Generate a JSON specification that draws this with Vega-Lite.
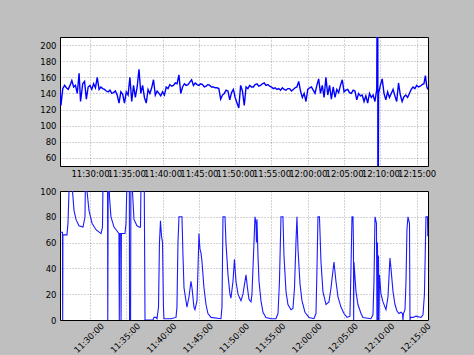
{
  "$schema": "https://vega.github.io/schema/vega-lite/v6.json",
  "background": "#bfbfbf",
  "padding": {"left": 39, "top": 36, "right": 41, "bottom": 0},
  "spacing": 25,
  "bounds": "flush",
  "config": {
    "view": {"fill": "white", "stroke": "black", "strokeWidth": 1},
    "axis": {"labelFont": "DejaVu Sans", "labelFontSize": 8.5, "labelColor": "black", "domain": false, "ticks": false, "tickSize": 0, "grid": true, "gridColor": "black", "gridDash": [1, 2], "gridOpacity": 0.35, "gridWidth": 1, "title": null, "labelOverlap": false, "labelFlush": false, "labelBound": false}
  },
  "datasets": {
    "top": [
      {"t": 25.87, "v": 147}, {"t": 26.0, "v": 125}, {"t": 26.25, "v": 146}, {"t": 26.5, "v": 150}, {"t": 26.75, "v": 147}, {"t": 27.0, "v": 145}, {"t": 27.25, "v": 150}, {"t": 27.5, "v": 156}, {"t": 27.75, "v": 148}, {"t": 28.0, "v": 150}, {"t": 28.25, "v": 140}, {"t": 28.5, "v": 165}, {"t": 28.7, "v": 130}, {"t": 29.0, "v": 152}, {"t": 29.25, "v": 155}, {"t": 29.5, "v": 133}, {"t": 29.75, "v": 148},
      {"t": 30.0, "v": 150}, {"t": 30.25, "v": 145}, {"t": 30.5, "v": 152}, {"t": 30.75, "v": 147}, {"t": 31.0, "v": 160}, {"t": 31.25, "v": 145}, {"t": 31.5, "v": 148}, {"t": 31.75, "v": 146}, {"t": 32.0, "v": 145}, {"t": 32.25, "v": 143}, {"t": 32.5, "v": 142}, {"t": 32.75, "v": 144}, {"t": 33.0, "v": 140}, {"t": 33.25, "v": 141}, {"t": 33.5, "v": 143}, {"t": 33.75, "v": 138}, {"t": 34.0, "v": 128}, {"t": 34.25, "v": 142}, {"t": 34.5, "v": 139}, {"t": 34.75, "v": 128},
      {"t": 35.0, "v": 142}, {"t": 35.25, "v": 138}, {"t": 35.5, "v": 160}, {"t": 35.75, "v": 130}, {"t": 36.0, "v": 150}, {"t": 36.25, "v": 135}, {"t": 36.5, "v": 148}, {"t": 36.75, "v": 170}, {"t": 37.0, "v": 140}, {"t": 37.25, "v": 150}, {"t": 37.5, "v": 135}, {"t": 37.75, "v": 128}, {"t": 38.0, "v": 145}, {"t": 38.25, "v": 140}, {"t": 38.5, "v": 147}, {"t": 38.75, "v": 157}, {"t": 39.0, "v": 138}, {"t": 39.25, "v": 143}, {"t": 39.5, "v": 140}, {"t": 39.75, "v": 137},
      {"t": 40.0, "v": 142}, {"t": 40.25, "v": 138}, {"t": 40.5, "v": 148}, {"t": 40.75, "v": 146}, {"t": 41.0, "v": 151}, {"t": 41.25, "v": 149}, {"t": 41.5, "v": 150}, {"t": 41.75, "v": 153}, {"t": 42.0, "v": 152}, {"t": 42.25, "v": 163}, {"t": 42.5, "v": 140}, {"t": 42.75, "v": 148}, {"t": 43.0, "v": 152}, {"t": 43.25, "v": 150}, {"t": 43.5, "v": 151}, {"t": 43.75, "v": 154}, {"t": 44.0, "v": 157}, {"t": 44.25, "v": 150}, {"t": 44.5, "v": 153}, {"t": 44.75, "v": 151},
      {"t": 45.0, "v": 150}, {"t": 45.25, "v": 152}, {"t": 45.5, "v": 151}, {"t": 45.75, "v": 148}, {"t": 46.0, "v": 149}, {"t": 46.25, "v": 151}, {"t": 46.5, "v": 150}, {"t": 46.75, "v": 148}, {"t": 47.0, "v": 148}, {"t": 47.25, "v": 147}, {"t": 47.5, "v": 147}, {"t": 47.75, "v": 146}, {"t": 48.0, "v": 133}, {"t": 48.25, "v": 138}, {"t": 48.5, "v": 140}, {"t": 48.75, "v": 144}, {"t": 49.0, "v": 143}, {"t": 49.25, "v": 132}, {"t": 49.5, "v": 141}, {"t": 49.75, "v": 145},
      {"t": 50.0, "v": 135}, {"t": 50.25, "v": 128}, {"t": 50.5, "v": 122}, {"t": 50.75, "v": 150}, {"t": 51.0, "v": 143}, {"t": 51.25, "v": 125}, {"t": 51.5, "v": 148}, {"t": 51.75, "v": 146}, {"t": 52.0, "v": 150}, {"t": 52.25, "v": 148}, {"t": 52.5, "v": 148}, {"t": 52.75, "v": 151}, {"t": 53.0, "v": 152}, {"t": 53.25, "v": 149}, {"t": 53.5, "v": 150}, {"t": 53.75, "v": 152}, {"t": 54.0, "v": 153}, {"t": 54.25, "v": 150}, {"t": 54.5, "v": 151}, {"t": 54.75, "v": 149},
      {"t": 55.0, "v": 148}, {"t": 55.25, "v": 146}, {"t": 55.5, "v": 147}, {"t": 55.75, "v": 145}, {"t": 56.0, "v": 146}, {"t": 56.25, "v": 144}, {"t": 56.5, "v": 147}, {"t": 56.75, "v": 145}, {"t": 57.0, "v": 144}, {"t": 57.25, "v": 146}, {"t": 57.5, "v": 146}, {"t": 57.75, "v": 143}, {"t": 58.0, "v": 145}, {"t": 58.25, "v": 147}, {"t": 58.5, "v": 148}, {"t": 58.75, "v": 155}, {"t": 59.0, "v": 143}, {"t": 59.25, "v": 135}, {"t": 59.5, "v": 140}, {"t": 59.75, "v": 130},
      {"t": 60.0, "v": 145}, {"t": 60.25, "v": 147}, {"t": 60.5, "v": 148}, {"t": 60.75, "v": 144}, {"t": 61.0, "v": 140}, {"t": 61.25, "v": 150}, {"t": 61.5, "v": 158}, {"t": 61.75, "v": 140}, {"t": 62.0, "v": 150}, {"t": 62.25, "v": 135}, {"t": 62.5, "v": 160}, {"t": 62.75, "v": 138}, {"t": 63.0, "v": 150}, {"t": 63.25, "v": 133}, {"t": 63.5, "v": 148}, {"t": 63.75, "v": 135}, {"t": 64.0, "v": 145}, {"t": 64.25, "v": 141}, {"t": 64.5, "v": 150}, {"t": 64.75, "v": 157},
      {"t": 65.0, "v": 142}, {"t": 65.25, "v": 144}, {"t": 65.5, "v": 145}, {"t": 65.75, "v": 141}, {"t": 66.0, "v": 140}, {"t": 66.25, "v": 144}, {"t": 66.5, "v": 143}, {"t": 66.75, "v": 132}, {"t": 67.0, "v": 140}, {"t": 67.25, "v": 137}, {"t": 67.5, "v": 138}, {"t": 67.75, "v": 130}, {"t": 68.0, "v": 137}, {"t": 68.25, "v": 128}, {"t": 68.5, "v": 140}, {"t": 68.75, "v": 135}, {"t": 69.0, "v": 138}, {"t": 69.25, "v": 130}, {"t": 69.5, "v": 145}, {"t": 69.63, "v": 400}, {"t": 69.67, "v": -100}, {"t": 69.75, "v": 140},
      {"t": 70.0, "v": 150}, {"t": 70.25, "v": 158}, {"t": 70.5, "v": 140}, {"t": 70.75, "v": 132}, {"t": 71.0, "v": 142}, {"t": 71.25, "v": 135}, {"t": 71.5, "v": 140}, {"t": 71.75, "v": 145}, {"t": 72.0, "v": 137}, {"t": 72.25, "v": 130}, {"t": 72.5, "v": 153}, {"t": 72.75, "v": 138}, {"t": 73.0, "v": 130}, {"t": 73.25, "v": 136}, {"t": 73.5, "v": 138}, {"t": 73.75, "v": 135}, {"t": 74.0, "v": 140}, {"t": 74.25, "v": 145}, {"t": 74.5, "v": 148}, {"t": 74.75, "v": 146},
      {"t": 75.0, "v": 150}, {"t": 75.25, "v": 148}, {"t": 75.5, "v": 149}, {"t": 75.75, "v": 151}, {"t": 76.0, "v": 152}, {"t": 76.2, "v": 162}, {"t": 76.4, "v": 148}, {"t": 76.56, "v": 145}
    ],
    "bottom": [
      {"t": 25.87, "v": 68}, {"t": 26.21, "v": 68}, {"t": 26.24, "v": 0}, {"t": 26.27, "v": 66}, {"t": 26.83, "v": 66}, {"t": 26.97, "v": 75}, {"t": 27.11, "v": 100}, {"t": 27.38, "v": 140}, {"t": 27.59, "v": 100}, {"t": 27.8, "v": 85}, {"t": 28.07, "v": 78}, {"t": 28.48, "v": 73}, {"t": 29.04, "v": 72}, {"t": 29.31, "v": 80}, {"t": 29.45, "v": 140}, {"t": 29.59, "v": 100}, {"t": 29.86, "v": 85}, {"t": 30.28, "v": 75}, {"t": 30.83, "v": 70}, {"t": 31.52, "v": 67}, {"t": 31.72, "v": 72}, {"t": 31.86, "v": 140}, {"t": 32.41, "v": 140}, {"t": 32.45, "v": 0}, {"t": 32.52, "v": 130}, {"t": 32.69, "v": 95}, {"t": 32.89, "v": 80}, {"t": 33.31, "v": 72}, {"t": 33.86, "v": 68}, {"t": 33.99, "v": 67}, {"t": 34.04, "v": 0}, {"t": 34.08, "v": 67}, {"t": 34.24, "v": 67}, {"t": 34.28, "v": 0}, {"t": 34.33, "v": 67}, {"t": 34.82, "v": 67}, {"t": 34.96, "v": 75}, {"t": 35.23, "v": 140}, {"t": 35.41, "v": 140}, {"t": 35.45, "v": 0}, {"t": 35.59, "v": 0}, {"t": 35.65, "v": 140}, {"t": 35.85, "v": 100}, {"t": 36.06, "v": 78}, {"t": 36.47, "v": 73}, {"t": 36.82, "v": 72}, {"t": 36.96, "v": 72}, {"t": 37.09, "v": 140}, {"t": 37.37, "v": 140}, {"t": 37.48, "v": 100}, {"t": 37.58, "v": 0},
      {"t": 38.68, "v": 0}, {"t": 38.82, "v": 2}, {"t": 39.09, "v": 2}, {"t": 39.23, "v": 1}, {"t": 39.44, "v": 10}, {"t": 39.57, "v": 60}, {"t": 39.71, "v": 77}, {"t": 39.85, "v": 65}, {"t": 39.99, "v": 60}, {"t": 40.12, "v": 10}, {"t": 40.19, "v": 1}, {"t": 41.16, "v": 1}, {"t": 41.85, "v": 2}, {"t": 41.98, "v": 10}, {"t": 42.12, "v": 60}, {"t": 42.26, "v": 80}, {"t": 42.67, "v": 80}, {"t": 42.81, "v": 50}, {"t": 42.95, "v": 25}, {"t": 43.22, "v": 15}, {"t": 43.36, "v": 10}, {"t": 43.64, "v": 18}, {"t": 43.91, "v": 30}, {"t": 44.05, "v": 25}, {"t": 44.32, "v": 10}, {"t": 44.46, "v": 8}, {"t": 44.74, "v": 15}, {"t": 44.88, "v": 40}, {"t": 45.01, "v": 67}, {"t": 45.15, "v": 55}, {"t": 45.29, "v": 52}, {"t": 45.43, "v": 45}, {"t": 45.7, "v": 25}, {"t": 45.98, "v": 12}, {"t": 46.25, "v": 5}, {"t": 46.67, "v": 2},
      {"t": 48.04, "v": 1}, {"t": 48.18, "v": 10}, {"t": 48.32, "v": 80}, {"t": 48.6, "v": 80}, {"t": 48.73, "v": 60}, {"t": 49.01, "v": 35}, {"t": 49.28, "v": 20}, {"t": 49.42, "v": 17}, {"t": 49.7, "v": 30}, {"t": 49.9, "v": 47}, {"t": 50.11, "v": 30}, {"t": 50.39, "v": 20}, {"t": 50.8, "v": 15}, {"t": 51.07, "v": 20}, {"t": 51.35, "v": 30}, {"t": 51.49, "v": 35}, {"t": 51.69, "v": 25}, {"t": 51.9, "v": 16}, {"t": 52.18, "v": 14}, {"t": 52.31, "v": 20}, {"t": 52.45, "v": 40}, {"t": 52.59, "v": 60}, {"t": 52.73, "v": 80}, {"t": 52.87, "v": 75}, {"t": 52.93, "v": 60}, {"t": 53.0, "v": 78}, {"t": 53.14, "v": 50}, {"t": 53.28, "v": 30}, {"t": 53.55, "v": 15}, {"t": 53.83, "v": 6}, {"t": 54.24, "v": 2}, {"t": 54.93, "v": 1},
      {"t": 55.62, "v": 1}, {"t": 55.9, "v": 5}, {"t": 56.1, "v": 30}, {"t": 56.31, "v": 80}, {"t": 56.58, "v": 80}, {"t": 56.72, "v": 50}, {"t": 57.0, "v": 22}, {"t": 57.27, "v": 12}, {"t": 57.69, "v": 8}, {"t": 57.96, "v": 9}, {"t": 58.17, "v": 25}, {"t": 58.37, "v": 60}, {"t": 58.51, "v": 80}, {"t": 58.65, "v": 55}, {"t": 58.93, "v": 28}, {"t": 59.2, "v": 15}, {"t": 59.61, "v": 6}, {"t": 60.17, "v": 2}, {"t": 60.85, "v": 1}, {"t": 61.13, "v": 5}, {"t": 61.27, "v": 40}, {"t": 61.4, "v": 80}, {"t": 61.61, "v": 80}, {"t": 61.82, "v": 45}, {"t": 62.09, "v": 22}, {"t": 62.51, "v": 12}, {"t": 62.92, "v": 14}, {"t": 63.2, "v": 25}, {"t": 63.61, "v": 45}, {"t": 63.88, "v": 30}, {"t": 64.16, "v": 18}, {"t": 64.57, "v": 10}, {"t": 64.99, "v": 5},
      {"t": 65.4, "v": 2}, {"t": 65.81, "v": 3}, {"t": 65.95, "v": 40}, {"t": 66.09, "v": 80}, {"t": 66.23, "v": 80}, {"t": 66.29, "v": 60}, {"t": 66.32, "v": 0}, {"t": 66.36, "v": 45}, {"t": 66.64, "v": 22}, {"t": 66.91, "v": 12}, {"t": 67.33, "v": 5}, {"t": 67.6, "v": 2}, {"t": 68.7, "v": 1}, {"t": 68.98, "v": 4}, {"t": 69.12, "v": 30}, {"t": 69.26, "v": 80}, {"t": 69.46, "v": 75}, {"t": 69.53, "v": 0}, {"t": 69.6, "v": 60}, {"t": 69.67, "v": 0}, {"t": 69.74, "v": 50}, {"t": 69.81, "v": 0}, {"t": 69.88, "v": 35}, {"t": 70.08, "v": 20}, {"t": 70.36, "v": 14}, {"t": 70.77, "v": 8}, {"t": 71.05, "v": 18}, {"t": 71.32, "v": 48}, {"t": 71.46, "v": 40}, {"t": 71.74, "v": 22}, {"t": 72.01, "v": 12}, {"t": 72.29, "v": 7}, {"t": 72.56, "v": 5}, {"t": 72.84, "v": 6}, {"t": 73.04, "v": 5}, {"t": 73.11, "v": 0}, {"t": 73.18, "v": 5}, {"t": 73.39, "v": 8}, {"t": 73.53, "v": 30}, {"t": 73.66, "v": 70}, {"t": 73.8, "v": 80}, {"t": 74.01, "v": 75}, {"t": 74.08, "v": 0}, {"t": 74.15, "v": 2}, {"t": 74.49, "v": 2}, {"t": 74.9, "v": 3},
      {"t": 75.59, "v": 2}, {"t": 75.87, "v": 4}, {"t": 76.07, "v": 20}, {"t": 76.28, "v": 80}, {"t": 76.49, "v": 80}, {"t": 76.53, "v": 65}
    ]
  },
  "vconcat": [
    {
      "width": 368,
      "height": 129,
      "data": {"name": "top"},
      "mark": {"type": "line", "color": "#0000ff", "strokeWidth": 1.4, "clip": true},
      "encoding": {
        "x": {"field": "t", "type": "quantitative", "scale": {"domain": [25.87, 76.56], "nice": false, "zero": false},
          "axis": {"values": [30, 35, 40, 45, 50, 55, 60, 65, 70, 75], "labelExpr": "timeFormat(datetime(2000, 0, 1, 11, datum.value, 0), '%H:%M:%S')", "labelPadding": 3}},
        "y": {"field": "v", "type": "quantitative", "scale": {"domain": [50, 210], "nice": false, "zero": false},
          "axis": {"values": [60, 80, 100, 120, 140, 160, 180, 200], "labelPadding": 4}}
      }
    },
    {
      "width": 368,
      "height": 129,
      "data": {"name": "bottom"},
      "mark": {"type": "line", "color": "#1a1aff", "strokeWidth": 1.1, "clip": true},
      "encoding": {
        "x": {"field": "t", "type": "quantitative", "scale": {"domain": [25.87, 76.56], "nice": false, "zero": false},
          "axis": {"values": [30, 35, 40, 45, 50, 55, 60, 65, 70, 75], "labelExpr": "timeFormat(datetime(2000, 0, 1, 11, datum.value, 0), '%H:%M:%S')", "labelAngle": -45, "labelAlign": "right", "labelBaseline": "middle", "labelOffset": 12, "labelPadding": 4}},
        "y": {"field": "v", "type": "quantitative", "scale": {"domain": [0, 100], "nice": false, "zero": false},
          "axis": {"values": [0, 20, 40, 60, 80, 100], "labelPadding": 4}}
      }
    }
  ]
}
